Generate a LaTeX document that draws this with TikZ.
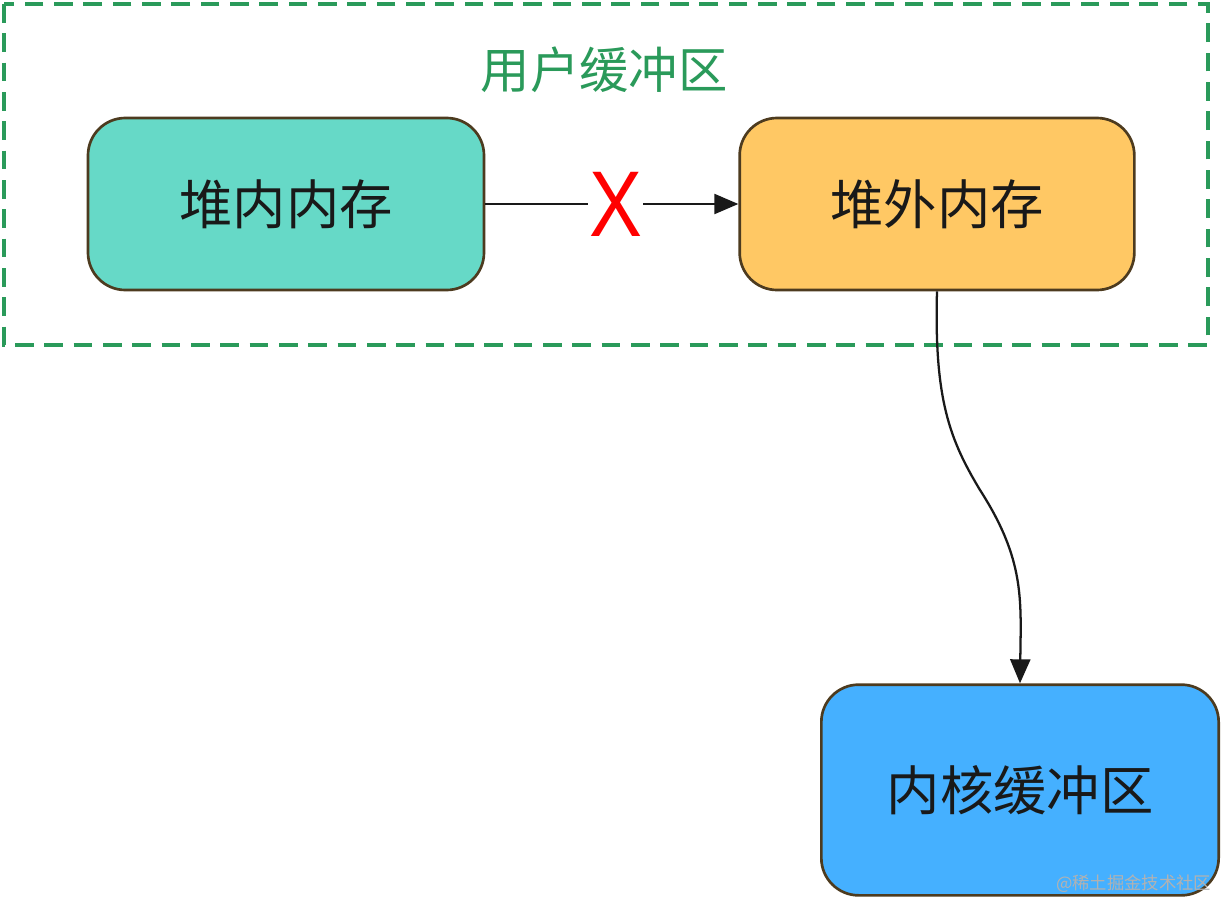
\documentclass[tikz,border=0pt]{standalone}
\usepackage{fontspec}
\setmainfont{Noto Sans CJK SC}
\newfontfamily\latin{Liberation Sans}
\usetikzlibrary{arrows.meta}
\definecolor{bord}{HTML}{4D3B1F}
\definecolor{gdash}{HTML}{2A9A5A}
\definecolor{cheap}{HTML}{66D9C7}
\definecolor{coff}{HTML}{FFC864}
\definecolor{ckern}{HTML}{45B0FF}
\tikzset{
 box/.style={draw=bord,line width=2pt,rounded corners=28pt,font=\fontsize{40}{46}\selectfont,text=black!90},
 conn/.style={line width=1.7pt,draw=black!90,-{Triangle[length=18pt,width=15pt]}}
}
\begin{document}
\begin{tikzpicture}[x=0.75pt,y=-0.75pt]
\useasboundingbox (0,0) rectangle (1222,900);
\fill[white] (0,0) rectangle (1222,900);
\draw[gdash,line width=3pt,dash pattern=on 14pt off 8pt] (4,4) rectangle (1208,345);
\node[text=gdash,font=\fontsize{37}{42}\selectfont] (title) at (604,70) {用户缓冲区};
\node[box,fill=cheap,minimum width=297pt,minimum height=129pt] (heap) at (286,204) {堆内内存};
\node[box,fill=coff,minimum width=296pt,minimum height=129pt] (off) at (937,204) {堆外内存};
\node[box,fill=ckern,minimum width=298pt,minimum height=158pt] (kern) at (1020,790) {内核缓冲区};
\draw[conn] (heap.east) -- (off.west) node[midway,xshift=3pt,fill=white,text=red,font=\latin\fontsize{70}{72}\selectfont,inner sep=1pt,xscale=0.85] (x) {X};
\draw[conn] (off.south) .. controls (934,400) and (950,440) .. (980,490) .. controls (1025,560) and (1021,600) .. (kern.north);
\node[text=black!30,font=\fontsize{13}{15}\selectfont,anchor=east] (wm) at (1216,884) {@稀土掘金技术社区};
\end{tikzpicture}
\end{document}
